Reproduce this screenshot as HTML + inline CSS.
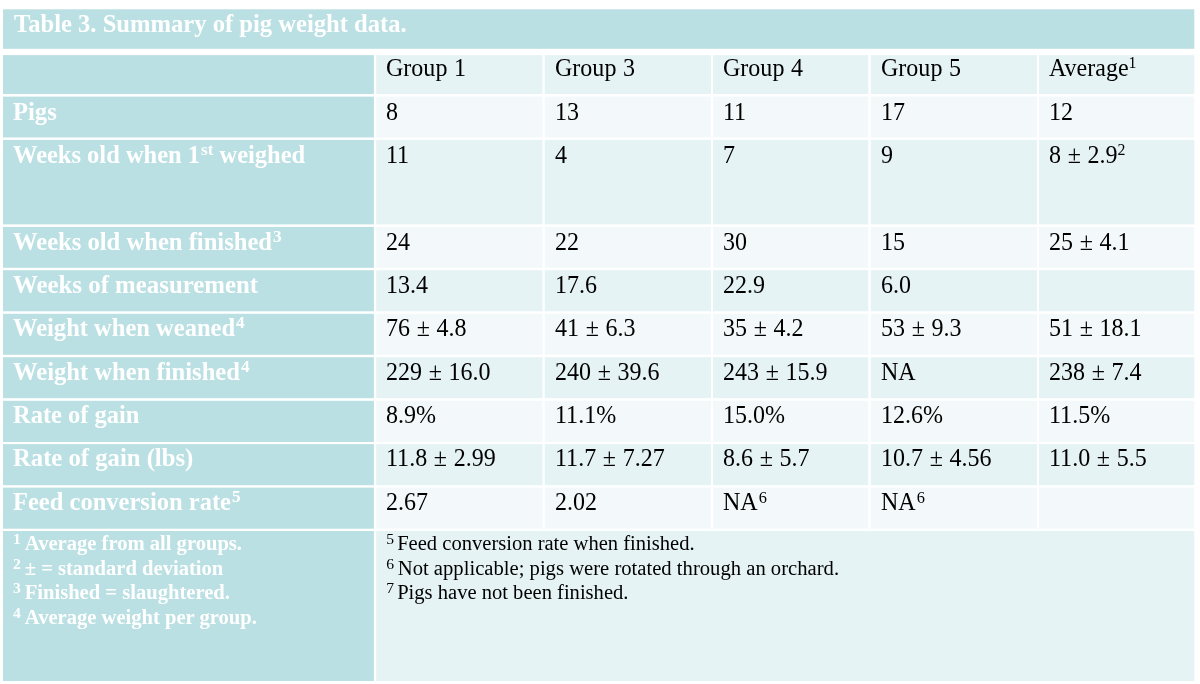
<!DOCTYPE html>
<html><head><meta charset="utf-8">
<style>
html,body{margin:0;padding:0;background:#fff;}
body{width:1200px;height:684px;position:relative;overflow:hidden;font-family:"Liberation Serif",serif;color:#000;}
.t{position:absolute;display:inline-block;white-space:nowrap;line-height:30px;transform-origin:0 0;color:#000;}
.b{color:#fff;font-weight:bold;}
sup.k{top:-0.45em;margin-left:1px;font-size:0.7em}
sup.f{font-size:.76em;top:-.4em;margin-left:-1px}
sup.g{font-size:.76em;top:-.4em;margin-left:-.7px;margin-right:-2px}
sup.n{top:-0.44em;margin-left:1.2px;font-size:0.68em}
sup{font-size:0.66em;line-height:0;vertical-align:baseline;position:relative;top:-0.5em;}
</style></head><body>
<svg width="1200" height="684" viewBox="0 0 1200 684" style="position:absolute;left:0;top:0"><rect x="3.0" y="9.3" width="1191.30" height="39.50" fill="#bbe0e3"/><rect x="3.0" y="55.1" width="370.90" height="38.90" fill="#bbe0e3"/><rect x="376.2" y="55.1" width="166.30" height="38.90" fill="#e6f3f4"/><rect x="544.75" y="55.1" width="166.25" height="38.90" fill="#e6f3f4"/><rect x="713.0" y="55.1" width="155.30" height="38.90" fill="#e6f3f4"/><rect x="870.8" y="55.1" width="166.20" height="38.90" fill="#e6f3f4"/><rect x="1039.0" y="55.1" width="155.30" height="38.90" fill="#e6f3f4"/><rect x="3.0" y="96.6" width="370.90" height="40.90" fill="#bbe0e3"/><rect x="376.2" y="96.6" width="166.30" height="40.90" fill="#f3f9fa"/><rect x="544.75" y="96.6" width="166.25" height="40.90" fill="#f3f9fa"/><rect x="713.0" y="96.6" width="155.30" height="40.90" fill="#f3f9fa"/><rect x="870.8" y="96.6" width="166.20" height="40.90" fill="#f3f9fa"/><rect x="1039.0" y="96.6" width="155.30" height="40.90" fill="#f3f9fa"/><rect x="3.0" y="139.9" width="370.90" height="84.50" fill="#bbe0e3"/><rect x="376.2" y="139.9" width="166.30" height="84.50" fill="#e6f3f4"/><rect x="544.75" y="139.9" width="166.25" height="84.50" fill="#e6f3f4"/><rect x="713.0" y="139.9" width="155.30" height="84.50" fill="#e6f3f4"/><rect x="870.8" y="139.9" width="166.20" height="84.50" fill="#e6f3f4"/><rect x="1039.0" y="139.9" width="155.30" height="84.50" fill="#e6f3f4"/><rect x="3.0" y="226.9" width="370.90" height="40.90" fill="#bbe0e3"/><rect x="376.2" y="226.9" width="166.30" height="40.90" fill="#f3f9fa"/><rect x="544.75" y="226.9" width="166.25" height="40.90" fill="#f3f9fa"/><rect x="713.0" y="226.9" width="155.30" height="40.90" fill="#f3f9fa"/><rect x="870.8" y="226.9" width="166.20" height="40.90" fill="#f3f9fa"/><rect x="1039.0" y="226.9" width="155.30" height="40.90" fill="#f3f9fa"/><rect x="3.0" y="270.2" width="370.90" height="41.10" fill="#bbe0e3"/><rect x="376.2" y="270.2" width="166.30" height="41.10" fill="#e6f3f4"/><rect x="544.75" y="270.2" width="166.25" height="41.10" fill="#e6f3f4"/><rect x="713.0" y="270.2" width="155.30" height="41.10" fill="#e6f3f4"/><rect x="870.8" y="270.2" width="166.20" height="41.10" fill="#e6f3f4"/><rect x="1039.0" y="270.2" width="155.30" height="41.10" fill="#e6f3f4"/><rect x="3.0" y="313.8" width="370.90" height="41.00" fill="#bbe0e3"/><rect x="376.2" y="313.8" width="166.30" height="41.00" fill="#f3f9fa"/><rect x="544.75" y="313.8" width="166.25" height="41.00" fill="#f3f9fa"/><rect x="713.0" y="313.8" width="155.30" height="41.00" fill="#f3f9fa"/><rect x="870.8" y="313.8" width="166.20" height="41.00" fill="#f3f9fa"/><rect x="1039.0" y="313.8" width="155.30" height="41.00" fill="#f3f9fa"/><rect x="3.0" y="357.2" width="370.90" height="41.00" fill="#bbe0e3"/><rect x="376.2" y="357.2" width="166.30" height="41.00" fill="#e6f3f4"/><rect x="544.75" y="357.2" width="166.25" height="41.00" fill="#e6f3f4"/><rect x="713.0" y="357.2" width="155.30" height="41.00" fill="#e6f3f4"/><rect x="870.8" y="357.2" width="166.20" height="41.00" fill="#e6f3f4"/><rect x="1039.0" y="357.2" width="155.30" height="41.00" fill="#e6f3f4"/><rect x="3.0" y="400.8" width="370.90" height="41.20" fill="#bbe0e3"/><rect x="376.2" y="400.8" width="166.30" height="41.20" fill="#f3f9fa"/><rect x="544.75" y="400.8" width="166.25" height="41.20" fill="#f3f9fa"/><rect x="713.0" y="400.8" width="155.30" height="41.20" fill="#f3f9fa"/><rect x="870.8" y="400.8" width="166.20" height="41.20" fill="#f3f9fa"/><rect x="1039.0" y="400.8" width="155.30" height="41.20" fill="#f3f9fa"/><rect x="3.0" y="444.1" width="370.90" height="41.10" fill="#bbe0e3"/><rect x="376.2" y="444.1" width="166.30" height="41.10" fill="#e6f3f4"/><rect x="544.75" y="444.1" width="166.25" height="41.10" fill="#e6f3f4"/><rect x="713.0" y="444.1" width="155.30" height="41.10" fill="#e6f3f4"/><rect x="870.8" y="444.1" width="166.20" height="41.10" fill="#e6f3f4"/><rect x="1039.0" y="444.1" width="155.30" height="41.10" fill="#e6f3f4"/><rect x="3.0" y="487.6" width="370.90" height="41.10" fill="#bbe0e3"/><rect x="376.2" y="487.6" width="166.30" height="41.10" fill="#f3f9fa"/><rect x="544.75" y="487.6" width="166.25" height="41.10" fill="#f3f9fa"/><rect x="713.0" y="487.6" width="155.30" height="41.10" fill="#f3f9fa"/><rect x="870.8" y="487.6" width="166.20" height="41.10" fill="#f3f9fa"/><rect x="1039.0" y="487.6" width="155.30" height="41.10" fill="#f3f9fa"/><rect x="3.0" y="531.0" width="370.90" height="150.00" fill="#bbe0e3"/><rect x="376.2" y="531.0" width="818.10" height="150.00" fill="#e6f3f4"/></svg>
<span class="t b" style="left:13.5px;top:9px;font-size:25px;transform:scaleX(0.984)">Table 3. Summary of pig weight data.</span>
<span class="t" style="word-spacing:0.7px;left:385.8px;top:53px;font-size:25px;transform:scaleX(0.961)">Group 1</span>
<span class="t" style="word-spacing:0.7px;left:554.8px;top:53px;font-size:25px;transform:scaleX(0.961)">Group 3</span>
<span class="t" style="word-spacing:0.7px;left:722.8px;top:53px;font-size:25px;transform:scaleX(0.961)">Group 4</span>
<span class="t" style="word-spacing:0.7px;left:880.8px;top:53px;font-size:25px;transform:scaleX(0.961)">Group 5</span>
<span class="t" style="word-spacing:0.7px;left:1048.8px;top:53px;font-size:25px;transform:scaleX(0.961)">Average<sup>1</sup></span>
<span class="t b" style="left:12.8px;top:97px;font-size:25px;transform:scaleX(0.984)">Pigs</span>
<span class="t" style="word-spacing:0.7px;left:385.8px;top:97px;font-size:25px;transform:scaleX(0.961)">8</span>
<span class="t" style="word-spacing:0.7px;left:554.8px;top:97px;font-size:25px;transform:scaleX(0.961)">13</span>
<span class="t" style="word-spacing:0.7px;left:722.8px;top:97px;font-size:25px;transform:scaleX(0.961)">11</span>
<span class="t" style="word-spacing:0.7px;left:880.8px;top:97px;font-size:25px;transform:scaleX(0.961)">17</span>
<span class="t" style="word-spacing:0.7px;left:1048.8px;top:97px;font-size:25px;transform:scaleX(0.961)">12</span>
<span class="t b" style="left:12.8px;top:140px;font-size:25px;transform:scaleX(0.97908)">Weeks old when 1<sup class="k">st</sup> weighed</span>
<span class="t" style="word-spacing:0.7px;left:385.8px;top:140px;font-size:25px;transform:scaleX(0.961)">11</span>
<span class="t" style="word-spacing:0.7px;left:554.8px;top:140px;font-size:25px;transform:scaleX(0.961)">4</span>
<span class="t" style="word-spacing:0.7px;left:722.8px;top:140px;font-size:25px;transform:scaleX(0.961)">7</span>
<span class="t" style="word-spacing:0.7px;left:880.8px;top:140px;font-size:25px;transform:scaleX(0.961)">9</span>
<span class="t" style="word-spacing:0.7px;left:1048.8px;top:140px;font-size:25px;transform:scaleX(0.961)">8 ± 2.9<sup>2</sup></span>
<span class="t b" style="left:12.8px;top:227px;font-size:25px;transform:scaleX(0.984)">Weeks old when finished<sup class="k">3</sup></span>
<span class="t" style="word-spacing:0.7px;left:385.8px;top:227px;font-size:25px;transform:scaleX(0.961)">24</span>
<span class="t" style="word-spacing:0.7px;left:554.8px;top:227px;font-size:25px;transform:scaleX(0.961)">22</span>
<span class="t" style="word-spacing:0.7px;left:722.8px;top:227px;font-size:25px;transform:scaleX(0.961)">30</span>
<span class="t" style="word-spacing:0.7px;left:880.8px;top:227px;font-size:25px;transform:scaleX(0.961)">15</span>
<span class="t" style="word-spacing:0.7px;left:1048.8px;top:227px;font-size:25px;transform:scaleX(0.961)">25 ± 4.1</span>
<span class="t b" style="left:12.8px;top:270px;font-size:25px;transform:scaleX(0.9935448)">Weeks of measurement</span>
<span class="t" style="word-spacing:0.7px;left:385.8px;top:270px;font-size:25px;transform:scaleX(0.961)">13.4</span>
<span class="t" style="word-spacing:0.7px;left:554.8px;top:270px;font-size:25px;transform:scaleX(0.961)">17.6</span>
<span class="t" style="word-spacing:0.7px;left:722.8px;top:270px;font-size:25px;transform:scaleX(0.961)">22.9</span>
<span class="t" style="word-spacing:0.7px;left:880.8px;top:270px;font-size:25px;transform:scaleX(0.961)">6.0</span>
<span class="t b" style="left:12.8px;top:313px;font-size:25px;transform:scaleX(0.981048)">Weight when weaned<sup class="k">4</sup></span>
<span class="t" style="word-spacing:0.7px;left:385.8px;top:313px;font-size:25px;transform:scaleX(0.961)">76 ± 4.8</span>
<span class="t" style="word-spacing:0.7px;left:554.8px;top:313px;font-size:25px;transform:scaleX(0.961)">41 ± 6.3</span>
<span class="t" style="word-spacing:0.7px;left:722.8px;top:313px;font-size:25px;transform:scaleX(0.961)">35 ± 4.2</span>
<span class="t" style="word-spacing:0.7px;left:880.8px;top:313px;font-size:25px;transform:scaleX(0.961)">53 ± 9.3</span>
<span class="t" style="word-spacing:0.7px;left:1048.8px;top:313px;font-size:25px;transform:scaleX(0.961)">51 ± 18.1</span>
<span class="t b" style="left:12.8px;top:357px;font-size:25px;transform:scaleX(0.984)">Weight when finished<sup class="k">4</sup></span>
<span class="t" style="word-spacing:0.7px;left:385.8px;top:357px;font-size:25px;transform:scaleX(0.961)">229 ± 16.0</span>
<span class="t" style="word-spacing:0.7px;left:554.8px;top:357px;font-size:25px;transform:scaleX(0.961)">240 ± 39.6</span>
<span class="t" style="word-spacing:0.7px;left:722.8px;top:357px;font-size:25px;transform:scaleX(0.961)">243 ± 15.9</span>
<span class="t" style="word-spacing:0.7px;left:880.8px;top:357px;font-size:25px;transform:scaleX(0.961)">NA</span>
<span class="t" style="word-spacing:0.7px;left:1048.8px;top:357px;font-size:25px;transform:scaleX(0.961)">238 ± 7.4</span>
<span class="t b" style="left:12.8px;top:400px;font-size:25px;transform:scaleX(0.97908)">Rate of gain</span>
<span class="t" style="word-spacing:0.7px;left:385.8px;top:400px;font-size:25px;transform:scaleX(0.961)">8.9%</span>
<span class="t" style="word-spacing:0.7px;left:554.8px;top:400px;font-size:25px;transform:scaleX(0.961)">11.1%</span>
<span class="t" style="word-spacing:0.7px;left:722.8px;top:400px;font-size:25px;transform:scaleX(0.961)">15.0%</span>
<span class="t" style="word-spacing:0.7px;left:880.8px;top:400px;font-size:25px;transform:scaleX(0.961)">12.6%</span>
<span class="t" style="word-spacing:0.7px;left:1048.8px;top:400px;font-size:25px;transform:scaleX(0.961)">11.5%</span>
<span class="t b" style="left:12.8px;top:443px;font-size:25px;transform:scaleX(0.9869519999999998)">Rate of gain (lbs)</span>
<span class="t" style="word-spacing:0.7px;left:385.8px;top:443px;font-size:25px;transform:scaleX(0.961)">11.8 ± 2.99</span>
<span class="t" style="word-spacing:0.7px;left:554.8px;top:443px;font-size:25px;transform:scaleX(0.961)">11.7 ± 7.27</span>
<span class="t" style="word-spacing:0.7px;left:722.8px;top:443px;font-size:25px;transform:scaleX(0.961)">8.6 ± 5.7</span>
<span class="t" style="word-spacing:0.7px;left:880.8px;top:443px;font-size:25px;transform:scaleX(0.961)">10.7 ± 4.56</span>
<span class="t" style="word-spacing:0.7px;left:1048.8px;top:443px;font-size:25px;transform:scaleX(0.961)">11.0 ± 5.5</span>
<span class="t b" style="left:12.8px;top:487px;font-size:25px;transform:scaleX(0.981048)">Feed conversion rate<sup class="k">5</sup></span>
<span class="t" style="word-spacing:0.7px;left:385.8px;top:487px;font-size:25px;transform:scaleX(0.961)">2.67</span>
<span class="t" style="word-spacing:0.7px;left:554.8px;top:487px;font-size:25px;transform:scaleX(0.961)">2.02</span>
<span class="t" style="word-spacing:0.7px;left:722.8px;top:487px;font-size:25px;transform:scaleX(0.961)">NA<sup class="n">6</sup></span>
<span class="t" style="word-spacing:0.7px;left:880.8px;top:487px;font-size:25px;transform:scaleX(0.961)">NA<sup class="n">6</sup></span>
<span class="t b" style="left:13.5px;top:528px;font-size:20px;transform:scaleX(1.029)"><sup class=f>1</sup> Average from all groups.</span>
<span class="t b" style="left:13.5px;top:553px;font-size:20px;transform:scaleX(1.029)"><sup class=f>2 </sup>± = standard deviation</span>
<span class="t b" style="left:13.5px;top:577px;font-size:20px;transform:scaleX(1.029)"><sup class=f style="margin-right:-1.2px">3</sup> Finished = slaughtered.</span>
<span class="t b" style="left:13.5px;top:602px;font-size:20px;transform:scaleX(1.029)"><sup class=f>4</sup> Average weight per group.</span>
<span class="t" style="left:386.5px;top:528px;font-size:20px;transform:scaleX(1.028)"><sup class=g>5</sup> Feed conversion rate when finished.</span>
<span class="t" style="left:386.5px;top:553px;font-size:20px;transform:scaleX(1.032)"><sup class=g style="margin-right:-.3px">6 </sup>Not applicable; pigs were rotated through an orchard.</span>
<span class="t" style="left:386.5px;top:577px;font-size:20px;transform:scaleX(1.028)"><sup class=g>7</sup> Pigs have not been finished.</span>
</body></html>
